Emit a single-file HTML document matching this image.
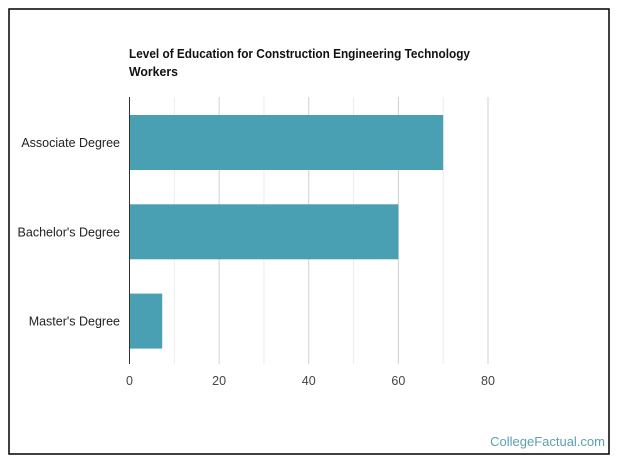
<!DOCTYPE html>
<html><head><meta charset="utf-8"><style>
body{margin:0;width:620px;height:465px;background:#fff;overflow:hidden;font-family:"Liberation Sans",sans-serif}
</style></head><body>
<svg width="620" height="465" id="svg">
<rect x="9" y="9" width="600" height="445" fill="#fff" stroke="#000" stroke-width="1.5"/>
<text x="129" y="58" font-size="12.5" font-weight="bold" fill="#111" textLength="341" lengthAdjust="spacingAndGlyphs">Level of Education for Construction Engineering Technology</text>
<text x="129" y="76" font-size="12.5" font-weight="bold" fill="#111" textLength="49" lengthAdjust="spacingAndGlyphs">Workers</text>
<g id="grid"></g><g id="bars"></g><g id="labels"></g>
<line x1="129.5" y1="97" x2="129.5" y2="364" stroke="#333" stroke-width="1"/>
<text x="605" y="446" font-size="13" fill="#5aa0b0" text-anchor="end">CollegeFactual.com</text>
</svg>
<script>
const categories=["Associate Degree","Bachelor's Degree","Master's Degree"];
const values=[70,60,7.3];
const ticks=[0,20,40,60,80];
const NS="http://www.w3.org/2000/svg";
const x=v=>129.5+v*(488-129.5)/80;
const bandTop=i=>97+i*89.3;
function mk(t,a,p){const e=document.createElementNS(NS,t);for(const k in a)e.setAttribute(k,a[k]);p.appendChild(e);return e;}
const g=document.getElementById('grid'),b=document.getElementById('bars'),l=document.getElementById('labels');
for(let v=10;v<=80;v+=10){const ln=mk('line',{x1:x(v),x2:x(v),y1:97,y2:364,stroke:v%20?'#ececec':'#d0d0d0','stroke-width':1},g);

}
ticks.forEach(v=>{const t=mk('text',{x:x(v),y:385,'font-size':12.5,fill:'#444','text-anchor':'middle'},l);t.textContent=v;

});
categories.forEach((c,i)=>{const y0=bandTop(i)+18;
const r=mk('rect',{x:129.5,y:y0,width:x(values[i])-129.5,height:55,fill:'#4aa0b3'},b);


const t=mk('text',{x:120,y:y0+32,'font-size':12.5,fill:'#222','text-anchor':'end'},l);t.textContent=c;

});
</script>
</body></html>
